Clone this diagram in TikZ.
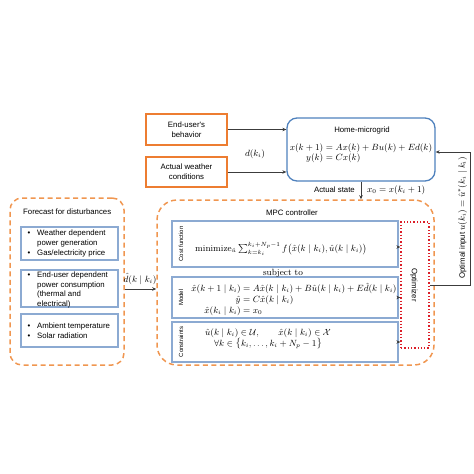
\documentclass[tikz,border=0pt]{standalone}
\usepackage{amsmath,amssymb}
\usepackage{fontspec}
\newfontfamily\arial{Liberation Sans}
\usetikzlibrary{arrows.meta,calc}
\definecolor{orangeC}{RGB}{237,125,49}
\definecolor{dashC}{RGB}{240,150,80}
\definecolor{blueC}{RGB}{79,129,189}
\definecolor{grayblue}{RGB}{140,170,210}
\definecolor{redC}{RGB}{220,30,40}
\definecolor{arrC}{RGB}{60,60,60}
\tikzset{
  txt/.style={font=\arial\fontsize{7.8}{9.6}\selectfont, inner sep=0pt, align=center},
  mth/.style={font=\fontsize{9}{10}\selectfont, inner sep=0pt},
  small/.style={font=\arial\fontsize{6}{7}\selectfont, inner sep=0pt, rotate=90},
  obox/.style={draw=orangeC, line width=1.4pt, minimum width=81pt, align=center, inner sep=0pt,
               font=\arial\fontsize{7.8}{9.6}\selectfont},
  gbox/.style={draw=grayblue, line width=1.1pt, inner sep=0pt},
  dbox/.style={draw=dashC, line width=1.5pt, dash pattern=on 5pt off 3.5pt, inner sep=0pt},
  arr/.style={draw=arrC, line width=0.7pt, -{Stealth[length=4pt,width=3.5pt]}},
  ln/.style={draw=arrC, line width=0.7pt},
}
\begin{document}
\begin{tikzpicture}[x=1pt,y=-1pt]
\useasboundingbox (0,0) rectangle (474,474);
% top orange boxes
\node[obox, minimum height=31pt] (beh) at (186.5,129.5) {End-user's\\behavior};
\node[obox, minimum height=30pt] (wea) at (186.5,172) {Actual weather\\conditions};
% home microgrid
\node[draw=blueC, line width=1.3pt, rounded corners=10pt, minimum width=148pt, minimum height=63pt, inner sep=0pt] (home) at (361,149.5) {};
\node[txt] (homet) at (362,130) {Home-microgrid};
\node[font=\fontsize{9.4}{9.6}\selectfont, inner sep=0pt] (homeq) at (361,153.5)
  {$\begin{array}{@{}r@{}l@{}} x(k+1) &{}= Ax(k)+Bu(k)+Ed(k)\\ y(k) &{}= Cx(k)\end{array}$};
\draw[arr] (beh.east) -- (beh.east -| home.west);
\draw[arr] (wea.east) -- (wea.east -| home.west);
\node[mth] (dk) at (255,154) {$d(k_i)$};
% forecast
\node[dbox, rounded corners=12pt, minimum width=114pt, minimum height=167pt] (fc) at (67,281.5) {};
\node[txt, anchor=west] (fct) at (23,212) {Forecast for disturbances};
\node[gbox, minimum width=97pt, minimum height=33pt] (f1) at (69.5,243.5) {};
\node[gbox, minimum width=97pt, minimum height=37pt] (f2) at (69.5,288.5) {};
\node[gbox, minimum width=97pt, minimum height=33pt] (f3) at (69.5,330.5) {};
\node[txt, anchor=west, align=left] (f1t) at (26,243.5)
  {\begin{tabular}{@{}p{11pt}@{}l@{}}\hspace{1.5pt}\textbullet & Weather dependent\\ & power generation\\ \hspace{1.5pt}\textbullet & Gas/electricity price\end{tabular}};
\node[txt, anchor=west, align=left] (f2t) at (26,290)
  {\begin{tabular}{@{}p{11pt}@{}l@{}}\hspace{1.5pt}\textbullet & End-user dependent\\ & power consumption\\ & (thermal and\\ & electrical)\end{tabular}};
\node[txt, anchor=west, align=left] (f3t) at (26,331.5)
  {\begin{tabular}{@{}p{11pt}@{}l@{}}\hspace{1.5pt}\textbullet & Ambient temperature\\ \hspace{1.5pt}\textbullet & Solar radiation\end{tabular}};
% MPC
\node[dbox, rounded corners=20pt, minimum width=277pt, minimum height=165pt] (mpc) at (295.5,282.5) {};
\node[txt] (mpct) at (292,213) {MPC controller};
\node[gbox, minimum width=226pt, minimum height=46pt] (cost) at (285,244) {};
\node[gbox, minimum width=226pt, minimum height=41pt] (model) at (285,297.5) {};
\node[gbox, minimum width=226pt, minimum height=40pt] (cons) at (285,342) {};
\node[small] (costl) at (181,244) {Cost function};
\node[small] (modell) at (181,297.5) {Model};
\node[small] (consl) at (181,342) {Constraints};
\node[mth] (costeq) at (281,249)
  {$\mathrm{minimize}_{\hat u}\sum_{k=k_i}^{k_i+N_p-1} f\bigl(\hat x(k\mid k_i),\hat u(k\mid k_i)\bigr)$};
\node[mth] (subj) at (283,273) {$\mathrm{subject\ to}$};
\node[font=\fontsize{9}{10.8}\selectfont, inner sep=0pt] (modeq) at (294,300)
  {$\begin{array}{@{}r@{}l@{}} \hat x(k+1\mid k_i) &{}= A\hat x(k\mid k_i)+B\hat u(k\mid k_i)+E\hat d(k\mid k_i)\\ \hat y &{}= C\hat x(k\mid k_i)\\ \hat x(k_i\mid k_i) &{}= x_0\end{array}$};
\node[font=\fontsize{9}{10.8}\selectfont, inner sep=0pt] (conseq) at (268,338.5)
  {$\begin{array}{@{}c@{}} \hat u(k\mid k_i)\in\mathcal{U},\qquad \hat x(k\mid k_i)\in\mathcal{X}\\ \forall k\in\bigl\{k_i,\dots,k_i+N_p-1\bigr\}\end{array}$};
% optimizer
\node[draw=redC, line width=1.3pt, dotted, minimum width=28pt, minimum height=126pt, inner sep=0pt] (opt) at (415,285) {};
\node[txt, rotate=-90] (optt) at (414,285) {Optimizer};
\draw[arr] (cost.east) ++(0,3) coordinate (ca) -- (ca -| opt.west);
\draw[arr] (model.east) -- (model.east -| opt.west);
\draw[arr] (cons.east) -- (cons.east -| opt.west);
% actual state
\draw[arr] (home.south) -- (home.south |- mpc.north);
\node[txt, anchor=east] (ast) at (355,190) {Actual state};
\node[mth, anchor=west] (x0) at (367,190) {$x_0=x(k_i+1)$};
% forecast arrow
\coordinate (c3) at (140,289);
\draw[arr] (fc.east |- c3) -- (mpc.west |- c3);
\node[mth] (dhat) at (140,279) {$\hat d(k\mid k_i)$};
% feedback
\coordinate (c1) at (470,285);
\coordinate (c2) at (470,152);
\draw[arr] (opt.east) -- (c1) -- (c2) -- (c2 -| home.east);
\node[txt, rotate=90] (optin) at (462.5,218) {Optimal input {\fontsize{9}{10}\selectfont$u(k_i)=\hat u^{*}(k_i\mid k_i)$}};
\end{tikzpicture}
\end{document}
